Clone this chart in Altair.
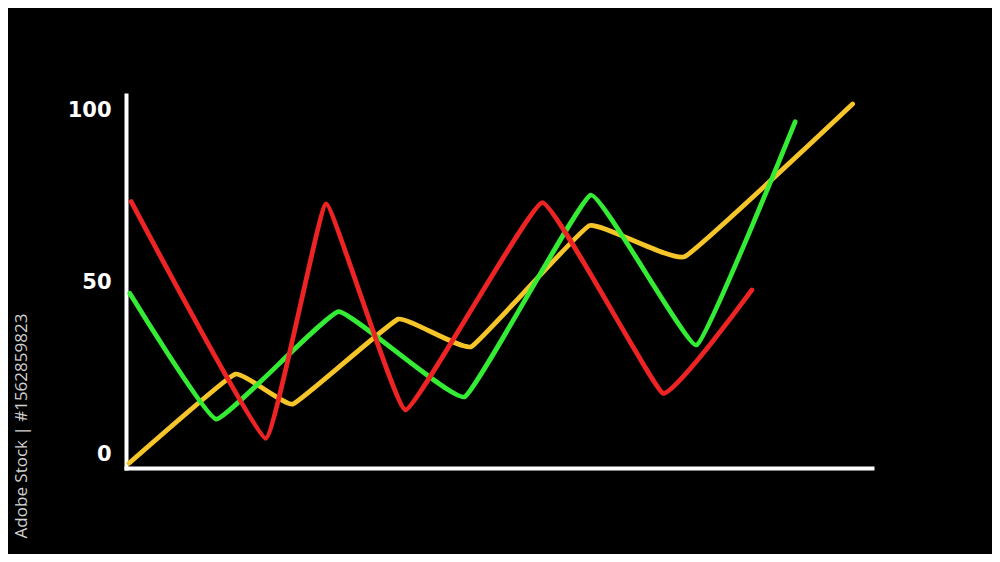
import altair as alt
import pandas as pd

# x positions (arbitrary 0-100 units, no x labels) and values per series
yellow_x = [0.4, 14.6, 22.4, 36.5, 46.3, 62.1, 74.9, 97.4]
yellow_y = [-2.6, 23.3, 14.6, 39.3, 31.3, 66.5, 57.5, 101.9]

green_x = [0.5, 12.1, 28.5, 45.4, 62.3, 76.5, 89.7]
green_y = [46.8, 10.2, 41.5, 16.7, 75.4, 31.8, 96.7]

red_x = [0.7, 18.7, 26.8, 37.5, 55.8, 72.0, 83.9]
red_y = [73.5, 4.6, 72.8, 12.9, 73.2, 17.7, 47.8]

series_names = ["yellow", "green", "red"]
series_colors = ["#f6c52a", "#33ec33", "#ee2424"]
y_ticks = [0, 50, 100]
watermark = ["Adobe Stock | #1562859823"]

rows = []
for name, xs, ys in zip(series_names, [yellow_x, green_x, red_x], [yellow_y, green_y, red_y]):
    for i, (xv, yv) in enumerate(zip(xs, ys)):
        rows.append({"series": name, "order": i, "x": xv, "y": yv})
df = pd.DataFrame(rows)

x_scale = alt.Scale(domain=[0, 100], nice=False, zero=False)
y_scale = alt.Scale(domain=[-4, 104.5], nice=False, zero=False)

lines = alt.Chart(df).mark_line(
    interpolate="cardinal", tension=0.72, strokeWidth=4.8, strokeCap="round", strokeJoin="round"
).encode(
    x=alt.X("x:Q", scale=x_scale,
            axis=alt.Axis(labels=False, ticks=False, grid=False, title=None,
                          domainColor="white", domainWidth=4, domainCap="square")),
    y=alt.Y("y:Q", scale=y_scale,
            axis=alt.Axis(values=y_ticks, ticks=False, grid=False, title=None,
                          domainColor="white", domainWidth=4, domainCap="square",
                          labelColor="white", labelFont="DejaVu Sans", labelFontSize=21,
                          labelFontWeight="bold", labelPadding=15)),
    color=alt.Color("series:N", scale=alt.Scale(domain=series_names, range=series_colors), legend=None),
    order=alt.Order("order:Q"),
    detail="series:N",
)

wm = alt.Chart(pd.DataFrame({"t": watermark})).mark_text(
    angle=270, font="Open Sans", fontSize=17, color="#d2d2d2", align="center", baseline="middle"
).encode(text="t:N", x=alt.value(-104), y=alt.value(331))

chart = alt.layer(lines, wm).properties(
    width=746, height=373,
    autosize=alt.AutoSizeParams(type="none"),
    padding={"left": 118, "top": 87, "right": 120, "bottom": 86},
    background="black",
).configure_view(stroke=None)

chart.save("out.html", embed_options={"renderer": "svg", "actions": False})
